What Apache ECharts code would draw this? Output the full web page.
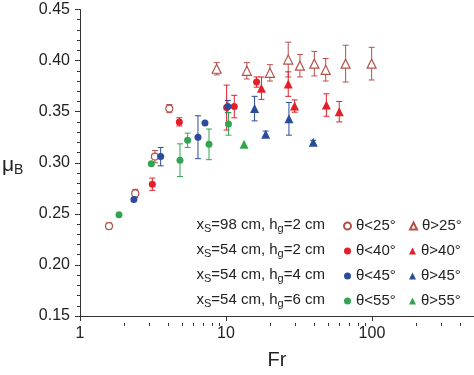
<!DOCTYPE html>
<html>
<head>
<meta charset="utf-8">
<script src="https://cdn.jsdelivr.net/npm/echarts@6/dist/echarts.min.js"></script>
<style>
html,body{margin:0;padding:0;background:#fff;}
#chart{width:474px;height:375px;}
</style>
</head>
<body>
<div id="chart"></div>
<script>
// ---- data (Fr, mu_B, error) ----
var openCircFr  = [1.58, 2.39, 3.26, 4.09];
var openCircMu  = [0.238, 0.270, 0.306, 0.353];
var openCircErr = [0.003, 0.004, 0.006, 0.004];

var openTriFr  = [8.63, 13.9, 20.0, 26.7, 32.1, 40.3, 48.2, 66.0, 99.5];
var openTriMu  = [0.392, 0.390, 0.388, 0.401, 0.395, 0.397, 0.391, 0.397, 0.397];
var openTriErr = [0.006, 0.008, 0.008, 0.017, 0.011, 0.012, 0.011, 0.018, 0.016];

var redCircFr  = [3.13, 4.79, 10.1, 11.4, 16.2];
var redCircMu  = [0.279, 0.340, 0.354, 0.355, 0.379];
var redCircErr = [0.006, 0.004, 0.022, 0.011, 0.005];

var redTriFr  = [17.5, 26.7, 29.5, 48.7, 59.7];
var redTriMu  = [0.373, 0.377, 0.3555, 0.3565, 0.350];
var redTriErr = [0.011, 0.012, 0.006, 0.011, 0.010];

var blueCircFr  = [2.34, 3.57, 6.43, 7.18, 10.3];
var blueCircMu  = [0.264, 0.306, 0.325, 0.339, 0.355];
var blueCircErr = [0, 0.009, 0.021, 0, 0.006];

var blueTriFr  = [15.7, 18.7, 27.0, 39.6];
var blueTriMu  = [0.353, 0.328, 0.343, 0.320];
var blueTriErr = [0.012, 0.003, 0.016, 0.002];

var greenCircFr  = [1.85, 3.08, 4.84, 5.46, 7.65, 10.4];
var greenCircMu  = [0.249, 0.299, 0.3025, 0.322, 0.318, 0.338];
var greenCircErr = [0, 0, 0.016, 0.007, 0.015, 0.011];

var greenTriFr  = [13.3];
var greenTriMu  = [0.318];
var greenTriErr = [0];

var xMajorTicks = [1, 10, 100];
var xMinorTicks = [2,3,4,5,6,7,8,9,20,30,40,50,60,70,80,90,200,300,400];
var groupLabels = ['98', '54', '54', '54'];
var groupHg = ['2', '2', '4', '6'];

var FONT = 'Liberation Sans, Arial, sans-serif';
var C_OPEN = '#b5514b', C_RED = '#e3202a', C_BLUE = '#2b4b9b', C_GREEN = '#33a552';

function pts(fr, mu) { return fr.map(function (f, i) { return [f, mu[i]]; }); }
function errPts(fr, mu, er) {
  var out = [];
  fr.forEach(function (f, i) { if (er[i] > 0) out.push([f, mu[i], er[i]]); });
  return out;
}

function errSeries(fr, mu, er, color) {
  return {
    type: 'custom', xAxisIndex: 0, yAxisIndex: 0, z: 1, silent: true,
    data: errPts(fr, mu, er),
    renderItem: function (params, api) {
      var x = api.value(0), y = api.value(1), e = api.value(2);
      var t = api.coord([x, y + e]), b = api.coord([x, y - e]);
      var hw = 3;
      var st = { stroke: color, lineWidth: 1 };
      return { type: 'group', children: [
        { type: 'line', shape: { x1: t[0], y1: t[1], x2: b[0], y2: b[1] }, style: st },
        { type: 'line', shape: { x1: t[0] - hw, y1: t[1], x2: t[0] + hw, y2: t[1] }, style: st },
        { type: 'line', shape: { x1: b[0] - hw, y1: b[1], x2: b[0] + hw, y2: b[1] }, style: st }
      ]};
    }
  };
}

function scat(name, fr, mu, symbol, size, color, empty) {
  return {
    name: name, type: 'scatter', xAxisIndex: 0, yAxisIndex: 0, z: 3,
    symbol: symbol, symbolSize: size,
    data: pts(fr, mu),
    itemStyle: empty ? { color: '#ffffff', borderColor: color, borderWidth: 1.2, opacity: 1 } : { color: color, opacity: 1 }
  };
}

var chart = echarts.init(document.getElementById('chart'), null, { renderer: 'canvas' });

var gridRect = { left: 80, right: 0, top: 9.5, bottom: 52 };
var labelX = 325;
var rowY = [226, 251, 276, 301];
var graphics = [];
rowY.forEach(function (y, i) {
  graphics.push({
    type: 'text', right: 474 - labelX, top: y - 9,
    style: {
      text: 'x{s|S}=' + groupLabels[i] + ' cm, h{s|g}=' + groupHg[i] + ' cm',
      font: '15px ' + FONT, fill: '#222',
      rich: { s: { fontSize: 11, fontFamily: FONT, fill: '#222', padding: [8, 0, 0, 0] } }
    }
  });
});
graphics.push({
  type: 'text', left: 2, top: 155,
  style: {
    text: 'μ{s|B}', font: '21px ' + FONT, fill: '#222',
    rich: { s: { fontSize: 14, fontFamily: FONT, fill: '#222', padding: [10, 0, 0, 0] } }
  }
});

var option = {
  backgroundColor: '#fff',
  animation: false,
  textStyle: { fontFamily: FONT },
  grid: [
    Object.assign({}, gridRect),
    Object.assign({}, gridRect)
  ],
  xAxis: [{
    type: 'log', logBase: 10, min: 1, max: 500, gridIndex: 0,
    name: 'Fr', nameLocation: 'middle', nameGap: 34,
    nameTextStyle: { fontSize: 20, color: '#222', fontFamily: FONT },
    axisLine: { show: true, lineStyle: { color: '#333', width: 1 } },
    axisTick: { show: true, length: 5, customValues: xMajorTicks, lineStyle: { color: '#333' } },
    axisLabel: { show: true, customValues: xMajorTicks, fontSize: 16, color: '#222', margin: 10, fontFamily: FONT },
    splitLine: { show: false }, minorTick: { show: false }
  }, {
    type: 'log', logBase: 10, min: 1, max: 500, gridIndex: 1,
    axisLine: { show: false },
    axisTick: { show: true, length: 3, customValues: xMinorTicks, lineStyle: { color: '#333' } },
    axisLabel: { show: false },
    splitLine: { show: false }
  }],
  yAxis: [{
    type: 'value', min: 0.15, max: 0.45, interval: 0.05, gridIndex: 0,
    axisLine: { show: true, lineStyle: { color: '#333', width: 1 } },
    axisTick: { show: true, length: 5, lineStyle: { color: '#333' } },
    minorTick: { show: true, splitNumber: 5, length: 3, lineStyle: { color: '#333' } },
    axisLabel: { fontSize: 16, color: '#222', margin: 10, fontFamily: FONT,
      formatter: function (v) { return v.toFixed(2); } },
    splitLine: { show: false }
  }, {
    type: 'value', min: 0.15, max: 0.45, gridIndex: 1, show: false
  }],
  legend: {
    left: 343, top: 217.5, width: 130, padding: 0,
    orient: 'horizontal', itemGap: 8, itemWidth: 7, itemHeight: 7,
    data: ['θ<25°', 'θ>25°', 'θ<40°', 'θ>40°', 'θ<45°', 'θ>45°', 'θ<55°', 'θ>55°'],
    textStyle: { fontSize: 15, color: '#222', width: 45, lineHeight: 17, fontFamily: FONT },
    selectedMode: false
  },
  graphic: graphics,
  series: [
    errSeries(openCircFr, openCircMu, openCircErr, C_OPEN),
    errSeries(openTriFr, openTriMu, openTriErr, C_OPEN),
    errSeries(redCircFr, redCircMu, redCircErr, C_RED),
    errSeries(redTriFr, redTriMu, redTriErr, C_RED),
    errSeries(blueCircFr, blueCircMu, blueCircErr, C_BLUE),
    errSeries(blueTriFr, blueTriMu, blueTriErr, C_BLUE),
    errSeries(greenCircFr, greenCircMu, greenCircErr, C_GREEN),
    errSeries(greenTriFr, greenTriMu, greenTriErr, C_GREEN),
    scat('θ<25°', openCircFr, openCircMu, 'circle', 7, C_OPEN, true),
    scat('θ>25°', openTriFr, openTriMu, 'triangle', 9, C_OPEN, true),
    scat('θ<40°', redCircFr, redCircMu, 'circle', 7, C_RED, false),
    scat('θ>40°', redTriFr, redTriMu, 'triangle', 9, C_RED, false),
    scat('θ<45°', blueCircFr, blueCircMu, 'circle', 7, C_BLUE, false),
    scat('θ>45°', blueTriFr, blueTriMu, 'triangle', 9, C_BLUE, false),
    scat('θ<55°', greenCircFr, greenCircMu, 'circle', 7, C_GREEN, false),
    scat('θ>55°', greenTriFr, greenTriMu, 'triangle', 9, C_GREEN, false)
  ]
};
chart.setOption(option);
</script>
</body>
</html>
